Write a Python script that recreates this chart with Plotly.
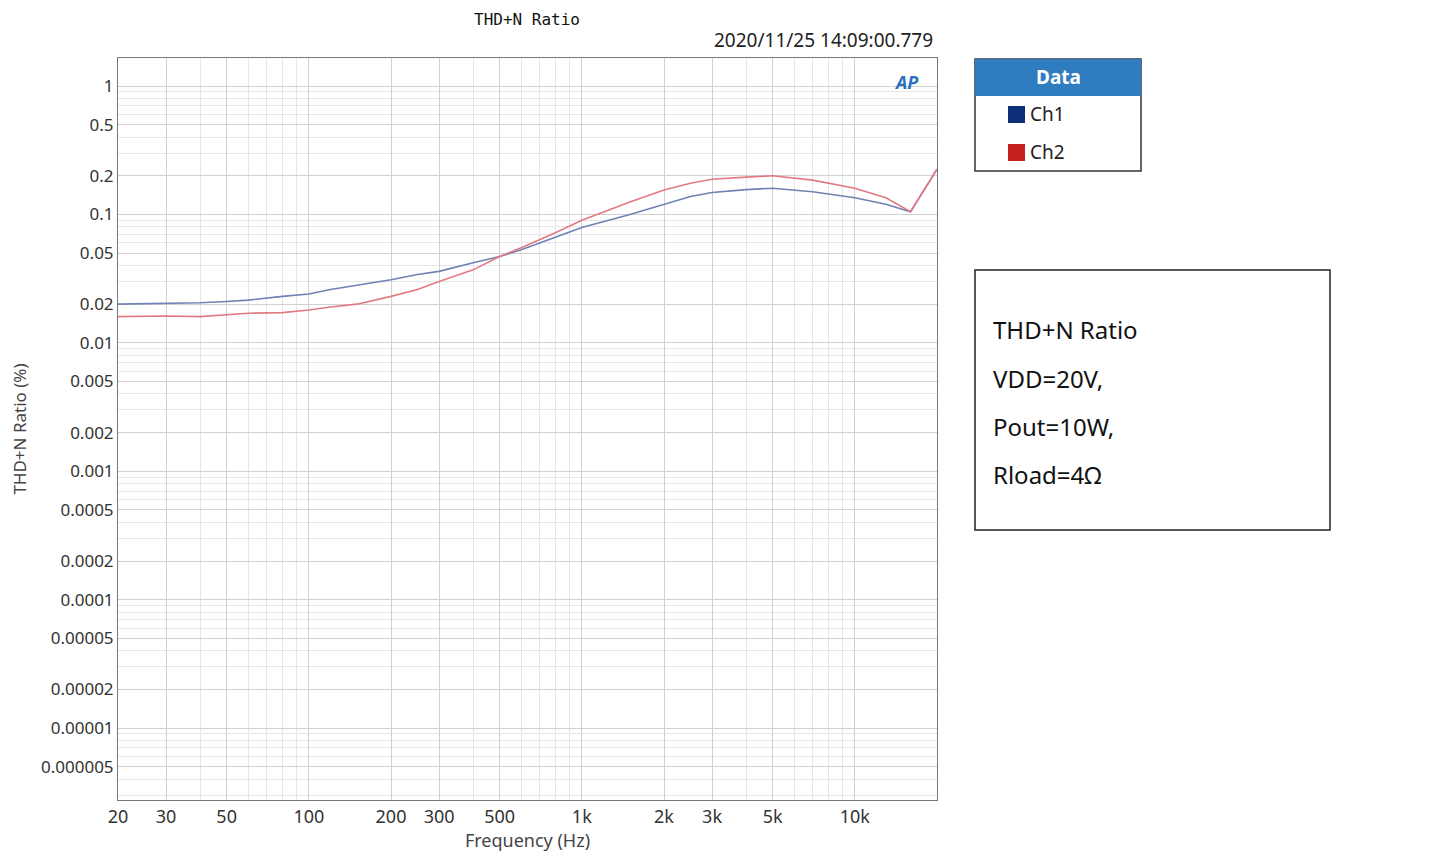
import numpy as np
import plotly.graph_objects as go

FREQ = [20, 30, 40, 50, 60, 80, 100, 120, 150, 200, 250, 300, 400, 500, 600,
        800, 1000, 1500, 2000, 2500, 3000, 4000, 5000, 7000, 10000, 13000,
        16000, 20000]
CH1 = [0.020, 0.0203, 0.0205, 0.021, 0.0215, 0.023, 0.024, 0.026, 0.028,
       0.031, 0.034, 0.036, 0.042, 0.047, 0.053, 0.066, 0.079, 0.100, 0.120,
       0.138, 0.148, 0.156, 0.160, 0.150, 0.135, 0.120, 0.105, 0.225]
CH2 = [0.016, 0.0162, 0.0160, 0.0165, 0.017, 0.0172, 0.018, 0.019, 0.020,
       0.023, 0.026, 0.030, 0.037, 0.047, 0.055, 0.072, 0.090, 0.125, 0.155,
       0.175, 0.188, 0.195, 0.200, 0.185, 0.160, 0.135, 0.105, 0.225]

X_TICKS = [20, 30, 50, 100, 200, 300, 500, 1000, 2000, 3000, 5000, 10000]
X_LABELS = ["20", "30", "50", "100", "200", "300", "500", "1k", "2k", "3k",
            "5k", "10k"]
Y_TICKS = [1, 0.5, 0.2, 0.1, 0.05, 0.02, 0.01, 0.005, 0.002, 0.001, 0.0005,
           0.0002, 0.0001, 0.00005, 0.00002, 0.00001, 0.000005]
Y_LABELS = ["1", "0.5", "0.2", "0.1", "0.05", "0.02", "0.01", "0.005",
            "0.002", "0.001", "0.0005", "0.0002", "0.0001", "0.00005",
            "0.00002", "0.00001", "0.000005"]

# page has an 8px body margin, so work in shifted coordinates
OFF = 8
W, H = 1440 - OFF, 860 - OFF
L, R, T, B = 118 - OFF, 937 - OFF, 58 - OFF, 800 - OFF
PW, PH = R - L, B - T


def px(x):
    return (x - OFF - L) / PW


def py(y):
    return (B - (y - OFF)) / PH


def note(fig, x, y, text, size, color='#222', family='Noto Sans',
         xanchor='left', yanchor='middle'):
    fig.add_annotation(xref='paper', yref='paper', x=px(x), y=py(y),
                       text=text, showarrow=False, xanchor=xanchor,
                       yanchor=yanchor,
                       font={'size': size, 'color': color, 'family': family})


fig = go.Figure()
fig.add_trace(go.Scatter(x=FREQ, y=CH1, mode='lines', name='Ch1',
                         line={'color': '#6f82b4', 'width': 1.6}))
fig.add_trace(go.Scatter(x=FREQ, y=CH2, mode='lines', name='Ch2',
                         line={'color': '#e27b80', 'width': 1.6}))

fig.update_xaxes(type='log', range=[np.log10(20), np.log10(20000)],
                 tickvals=X_TICKS, ticktext=X_LABELS, automargin=False,
                 showgrid=True, gridcolor='#d0d0d0',
                 minor={'showgrid': True, 'gridcolor': '#e6e6e6',
                        'dtick': 'D1'},
                 showline=True, linecolor='#777', mirror=True,
                 title={'text': 'Frequency (Hz)', 'standoff': 2,
                        'font': {'size': 18, 'color': '#444'}},
                 tickfont={'size': 18, 'color': '#333'})
fig.update_yaxes(type='log', range=[-5.56, 0.218],
                 tickvals=Y_TICKS, ticktext=Y_LABELS, automargin=False,
                 showgrid=True, gridcolor='#d0d0d0',
                 minor={'showgrid': True, 'gridcolor': '#e6e6e6',
                        'dtick': 'D1'},
                 showline=True, linecolor='#777', mirror=True,
                 title={'text': 'THD+N Ratio (%)', 'standoff': 14,
                        'font': {'size': 17, 'color': '#444'}},
                 tickfont={'size': 17, 'color': '#333'})

# legend box
fig.add_shape(type='rect', xref='paper', yref='paper',
              x0=px(975), x1=px(1141), y0=py(171), y1=py(59),
              line={'color': '#333', 'width': 1.5}, fillcolor='white')
fig.add_shape(type='rect', xref='paper', yref='paper',
              x0=px(975), x1=px(1141), y0=py(96), y1=py(59),
              line={'width': 0}, fillcolor='#2f7dc0')
note(fig, 1058, 77, '<b>Data</b>', 19, 'white', 'Segoe UI, Noto Sans', 'center')
for name, col, yy in [('Ch1', '#0d2f78', 114), ('Ch2', '#c8201e', 152)]:
    fig.add_shape(type='rect', xref='paper', yref='paper',
                  x0=px(1008), x1=px(1025), y0=py(yy + 9), y1=py(yy - 8),
                  line={'width': 0}, fillcolor=col)
    note(fig, 1028, yy, name, 19)

# note box
fig.add_shape(type='rect', xref='paper', yref='paper',
              x0=px(975), x1=px(1330), y0=py(530), y1=py(270),
              line={'color': '#222', 'width': 1.5}, fillcolor='white')
for txt, yy in [('THD+N Ratio', 330), ('VDD=20V,', 378), ('Pout=10W,', 426),
                ('Rload=4Ω', 474)]:
    note(fig, 991, yy, txt, 24, '#111')

note(fig, 527, 8, 'THD+N Ratio', 16, '#111', 'DejaVu Sans Mono', 'center', 'top')
note(fig, 935, 40, '2020/11/25 14:09:00.779', 19, '#222', 'Noto Sans', 'right')
note(fig, 906, 82, '<b><i>AP</i></b>', 18, '#2a6fc0', 'Noto Sans', 'center')

fig.update_layout(width=W, height=H, showlegend=False,
                  plot_bgcolor='white', paper_bgcolor='white',
                  margin={'l': L, 'r': W - R, 't': T, 'b': H - B},
                  font={'family': 'Noto Sans'})

fig.write_html("out.html")
